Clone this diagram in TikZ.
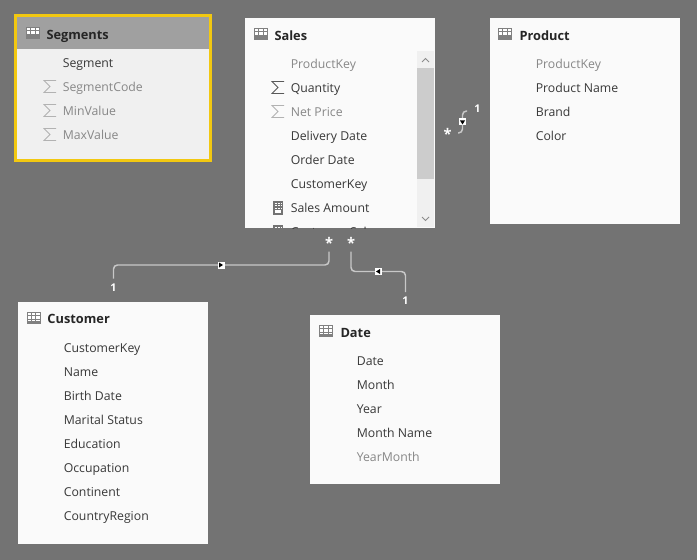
\documentclass[tikz,border=0pt]{standalone}
\usepackage{fontspec}
\setmainfont{Open Sans}
\definecolor{canvasgrey}{RGB}{115,115,115}
\definecolor{tableface}{RGB}{250,250,250}
\definecolor{hiddenface}{RGB}{240,240,240}
\definecolor{hiddenhead}{RGB}{160,160,160}
\definecolor{selectgold}{RGB}{242,200,17}
\definecolor{fieldink}{RGB}{56,56,56}
\definecolor{fieldfade}{RGB}{135,135,135}
\definecolor{relgrey}{RGB}{200,200,200}
\tikzset{
	every picture/.style={line width=0.75pt},
	hiddenbox/.style={draw=selectgold,line width=2.25pt,fill=hiddenface},
	tabletitle/.style={anchor=base west,yshift=-4pt,inner sep=0pt,font=\fontsize{9.6}{11}\selectfont\bfseries,text=black!85},
	fieldname/.style={anchor=base west,yshift=-3.5pt,xshift=-0.5pt,inner sep=0pt,font=\fontsize{9.2}{11}\selectfont,text=fieldink},
	fadedname/.style={fieldname,text=fieldfade},
	cardmark/.style={inner sep=0pt,font=\fontsize{8}{8}\selectfont\bfseries,text=white},
	cardstar/.style={inner sep=0pt,font=\fontsize{11}{11}\selectfont\bfseries,text=white},
	relline/.style={draw=relgrey,line width=1.1pt,rounded corners=3},
	relflag/.style={fill=white,minimum size=5.25pt,inner sep=0pt},
	relhead/.style={fill=black,draw=none},
	tableicon/.pic={
		\fill [white] (-6.5,-5.5) rectangle (6.5,6);
		\fill [black!50] (-6.5,-5.5) rectangle (6.5,-2.5);
		\draw [black!50,line width=0.6pt] (-6.5,-5.5) rectangle (6.5,6)
			(-6.5,-1) -- (6.5,-1) (-6.5,2.5) -- (6.5,2.5)
			(-2.2,-2.5) -- (-2.2,6) (2.2,-2.5) -- (2.2,6);
	},
	sigmaicon/.pic={
		\draw [#1,line width=0.6pt,line join=miter] (6,-6) -- (-6,-6) -- (0,0) -- (-6,6) -- (6,6);
	},
	calcicon/.pic={
		\fill [black!55] (-5,-7) rectangle (5,7);
		\fill [white] (-3.4,-5.4) rectangle (3.4,-2.6);
		\draw [white,line width=0.7pt,dash pattern=on 1.5pt off 1pt] (-3.4,-0.5) -- (3.4,-0.5) (-3.4,2) -- (3.4,2) (-3.4,4.5) -- (3.4,4.5);
	}
}

\begin{document}
\begin{tikzpicture}[x=0.75pt,y=0.75pt,yscale=-1,xscale=1]
	\useasboundingbox (0,0) rectangle (697,560);

	%Shape: Rectangle [id:canvas] 
	\fill [canvasgrey] (0,0) rectangle (697,560);

	%Shape: Segments table
	\draw [hiddenbox] (15.5,15.5) rectangle (210.5,160.5);
	\fill [hiddenhead] (17,17) rectangle (209,49);
	\draw (33,33) pic {tableicon};
	\draw (46,34) node (segTitle) [tabletitle] {Segments};
	\draw (63,63) node (segSegment) [fieldname] {Segment};
	\draw (63,87) node (segCode) [fadedname] {SegmentCode};
	\draw (63,111) node (segMin) [fadedname] {MinValue};
	\draw (63,135) node (segMax) [fadedname] {MaxValue};
	\draw (50,86.5) pic {sigmaicon=black!30};
	\draw (50,110.5) pic {sigmaicon=black!30};
	\draw (50,134.5) pic {sigmaicon=black!30};

	%Shape: Sales table
	\fill [tableface] (245,18) rectangle (435,228);
	\fill [hiddenface] (417,51) rectangle (434,227);
	\fill [black!20] (417,68) rectangle (434,179);
	\draw [black!45] (422,62) -- (425.5,58.5) -- (429,62);
	\draw [black!45] (422,217) -- (425.5,220.5) -- (429,217);
	\draw (261,34) pic {tableicon};
	\draw (274,35) node (salesTitle) [tabletitle] {Sales};
	\draw (291,63.5) node (salesProduct) [fadedname] {ProductKey};
	\draw (291,87.5) node (salesQty) [fieldname] {Quantity};
	\draw (291,111.5) node (salesPrice) [fadedname] {Net Price};
	\draw (291,135.5) node (salesDelivery) [fieldname] {Delivery Date};
	\draw (291,159.5) node (salesOrder) [fieldname] {Order Date};
	\draw (291,183.5) node (salesCustomer) [fieldname] {CustomerKey};
	\draw (291,207.5) node (salesAmount) [fieldname] {Sales Amount};
	\draw (278,87.5) pic {sigmaicon=black!65};
	\draw (278,111.5) pic {sigmaicon=black!30};
	\draw (278,207.5) pic {calcicon};
	\begin{scope}
		\clip (245,18) rectangle (417,228);
		\draw (291,231.5) node (salesCut) [fieldname] {Customer Sales};
		\draw (278,231.5) pic {calcicon};
	\end{scope}

	%Shape: Product table
	\fill [tableface] (490,18) rectangle (680,224);
	\draw (505,34) pic {tableicon};
	\draw (519,35) node (prodTitle) [tabletitle] {Product};
	\draw (536,63.5) node (prodKey) [fadedname] {ProductKey};
	\draw (536,87.5) node (prodName) [fieldname] {Product Name};
	\draw (536,111.5) node (prodBrand) [fieldname] {Brand};
	\draw (536,135.5) node (prodColor) [fieldname] {Color};

	%Shape: Customer table
	\fill [tableface] (18,302) rectangle (208,544);
	\draw (33.5,318) pic {tableicon};
	\draw (47,318.5) node (custTitle) [tabletitle] {Customer};
	\draw (64,347.5) node (custKey) [fieldname] {CustomerKey};
	\draw (64,371.5) node (custName) [fieldname] {Name};
	\draw (64,395.5) node (custBirth) [fieldname] {Birth Date};
	\draw (64,419.5) node (custMarital) [fieldname] {Marital Status};
	\draw (64,443.5) node (custEdu) [fieldname] {Education};
	\draw (64,467.5) node (custJob) [fieldname] {Occupation};
	\draw (64,491.5) node (custCont) [fieldname] {Continent};
	\draw (64,515.5) node (custRegion) [fieldname] {CountryRegion};

	%Shape: Date table
	\fill [tableface] (310,315) rectangle (500,484);
	\draw (326,331) pic {tableicon};
	\draw (340,332) node (dateTitle) [tabletitle] {Date};
	\draw (357,360.5) node (dateDate) [fieldname] {Date};
	\draw (357,384.5) node (dateMonth) [fieldname] {Month};
	\draw (357,408.5) node (dateYear) [fieldname] {Year};
	\draw (357,432.5) node (dateName) [fieldname] {Month Name};
	\draw (357,456.5) node (dateYearMonth) [fadedname] {YearMonth};

	% Text Node
	\draw (447.5,134) node (prodMany) [cardstar] {*};
	\draw (477.5,109) node (prodOne) [cardmark] {1};
	\draw (329,243) node (custMany) [cardstar] {*};
	\draw (113.5,288) node (custOne) [cardmark] {1};
	\draw (351,243) node (dateMany) [cardstar] {*};
	\draw (405.5,301) node (dateOne) [cardmark] {1};

	%Straight Lines
	\coordinate (prodFrom) at (458,133);
	\coordinate (prodTo) at (467,111);
	\coordinate (custFrom) at (329,251.5);
	\coordinate (custTo) at (113.5,278.5);
	\coordinate (dateFrom) at (351,251.5);
	\coordinate (dateTo) at (405.5,292);
	\node (prodFlag) [relflag] at (462.5,122) {};
	\node (custFlag) [relflag] at (221,265) {};
	\node (dateFlag) [relflag] at (378,271.5) {};
	\draw [relline] (prodFrom) -| (prodFlag.center) |- (prodTo);
	\draw [relline] (custFrom) |- (custFlag.center) -| (custTo);
	\draw [relline] (dateFrom) |- (dateFlag.center) -| (dateTo);
	\node [relflag] at (prodFlag) {};
	\node [relflag] at (custFlag) {};
	\node [relflag] at (dateFlag) {};
	\fill [relhead] (460,120.5) -- (465,120.5) -- (462.5,124.5) -- cycle;
	\fill [relhead] (219,262.5) -- (219,267.5) -- (223,265) -- cycle;
	\fill [relhead] (380,269) -- (380,274) -- (376,271.5) -- cycle;

\end{tikzpicture}
\end{document}
